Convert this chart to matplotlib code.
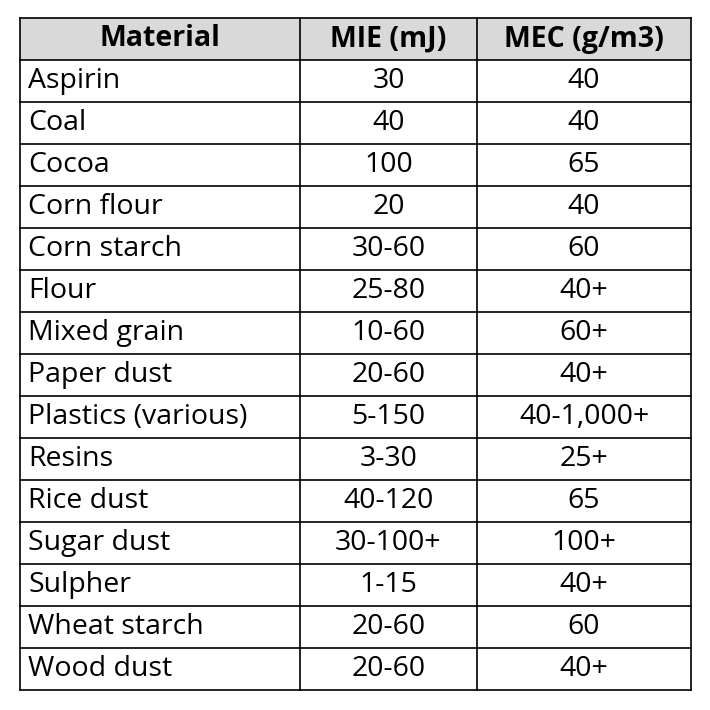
import matplotlib
matplotlib.use("Agg")
import matplotlib.pyplot as plt
from matplotlib.patches import Rectangle

headers = ["Material", "MIE (mJ)", "MEC (g/m3)"]
materials = ["Aspirin", "Coal", "Cocoa", "Corn flour", "Corn starch", "Flour", "Mixed grain",
             "Paper dust", "Plastics (various)", "Resins", "Rice dust", "Sugar dust",
             "Sulpher", "Wheat starch", "Wood dust"]
mie = ["30", "40", "100", "20", "30-60", "25-80", "10-60", "20-60", "5-150", "3-30",
       "40-120", "30-100+", "1-15", "20-60", "20-60"]
mec = ["40", "40", "65", "40", "60", "40+", "60+", "40+", "40-1,000+", "25+",
       "65", "100+", "40+", "60", "40+"]

W = H = 710
fig = plt.figure(figsize=(7.1, 7.1), dpi=100)
ax = fig.add_axes([0, 0, 1, 1])
ax.set_xlim(0, W)
ax.set_ylim(H, 0)
ax.axis("off")

xs = [20, 300, 477, 691]
top, rh = 18, 42
n = len(materials) + 1
bottom = top + rh * n
fam = ["Open Sans", "DejaVu Sans"]
fs = 20.5

ax.add_patch(Rectangle((xs[0], top), xs[-1] - xs[0], rh, facecolor="#d9d9d9", edgecolor="none"))
for i in range(n + 1):
    ax.plot([xs[0], xs[-1]], [top + i * rh] * 2, color="black", lw=1.2)
for x in xs:
    ax.plot([x, x], [top, bottom], color="black", lw=1.2)

centers = [(xs[i] + xs[i + 1]) / 2 for i in range(3)]
for j, h in enumerate(headers):
    ax.text(centers[j], top + rh / 2, h, ha="center", va="center", fontsize=fs,
            fontweight="bold", family=fam)
for i, (m, a, b) in enumerate(zip(materials, mie, mec)):
    y = top + (i + 1.5) * rh
    ax.text(28, y, m, ha="left", va="center", fontsize=fs, family=fam)
    ax.text(centers[1], y, a, ha="center", va="center", fontsize=fs, family=fam)
    ax.text(centers[2], y, b, ha="center", va="center", fontsize=fs, family=fam)

fig.savefig("out.png", dpi=100, facecolor="white")
